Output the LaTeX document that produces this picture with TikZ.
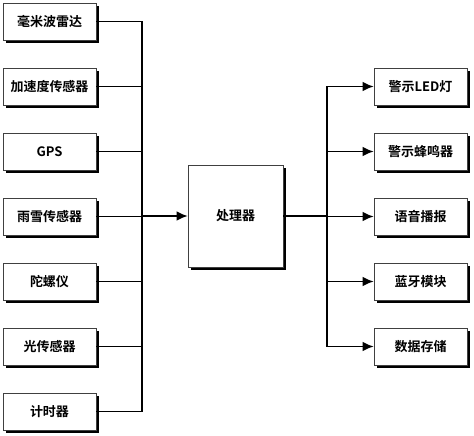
\documentclass[tikz,border=0pt]{standalone}
\usepackage{fontspec}
\setmainfont{Liberation Sans}
\newfontfamily\cjk{Noto Sans CJK SC}[BoldFont={Noto Sans CJK SC Bold}]
\usetikzlibrary{shadows,arrows.meta}
\begin{document}
\begin{tikzpicture}[x=1pt,y=-1pt,
  box/.style={draw=black!75, line width=0.6pt, fill=white, minimum width=93pt, minimum height=37pt,
    inner sep=0pt, font=\cjk\bfseries\fontsize{13pt}{15pt}\selectfont,
    drop shadow={shadow xshift=2.8pt, shadow yshift=-2.8pt, fill=black, opacity=1}},
  conn/.style={line width=1.5pt, line cap=rect},
  arr/.style={conn, -{Latex[length=11pt,width=9.5pt]}}]
\useasboundingbox (0,0) rectangle (474,436);
% left boxes
\node[box] (l1) at (49.5,21.5) {毫米波雷达};
\node[box] (l2) at (49.5,86.5) {加速度传感器};
\node[box] (l3) at (49.5,151.5) {GPS};
\node[box] (l4) at (49.5,216.5) {雨雪传感器};
\node[box] (l5) at (49.5,281.5) {陀螺仪};
\node[box] (l6) at (49.5,346.5) {光传感器};
\node[box] (l7) at (49.5,411.5) {计时器};
% processor
\node[box, minimum width=95pt, minimum height=102pt] (p) at (235.5,216) {处理器};
% right boxes
\node[box] (r1) at (420.5,86.5) {警示LED灯};
\node[box] (r2) at (420.5,151.5) {警示蜂鸣器};
\node[box] (r3) at (420.5,216.5) {语音播报};
\node[box] (r4) at (420.5,281.5) {蓝牙模块};
\node[box] (r5) at (420.5,346.5) {数据存储};
% buses
\coordinate (lb) at (142,216);
\coordinate (rb) at (327,216);
\foreach \i in {1,...,7} {\draw[conn] (l\i.east) -- (l\i.east -| lb);}
\draw[conn] (l1.east -| lb) -- (l7.east -| lb);
\draw[arr] (lb) -- (p.west);
\draw[conn] (p.east) -- (rb);
\draw[conn] (r1.west -| rb) -- (r5.west -| rb);
\foreach \i in {1,...,5} {\draw[arr] (r\i.west -| rb) -- (r\i.west);}
\end{tikzpicture}
\end{document}
